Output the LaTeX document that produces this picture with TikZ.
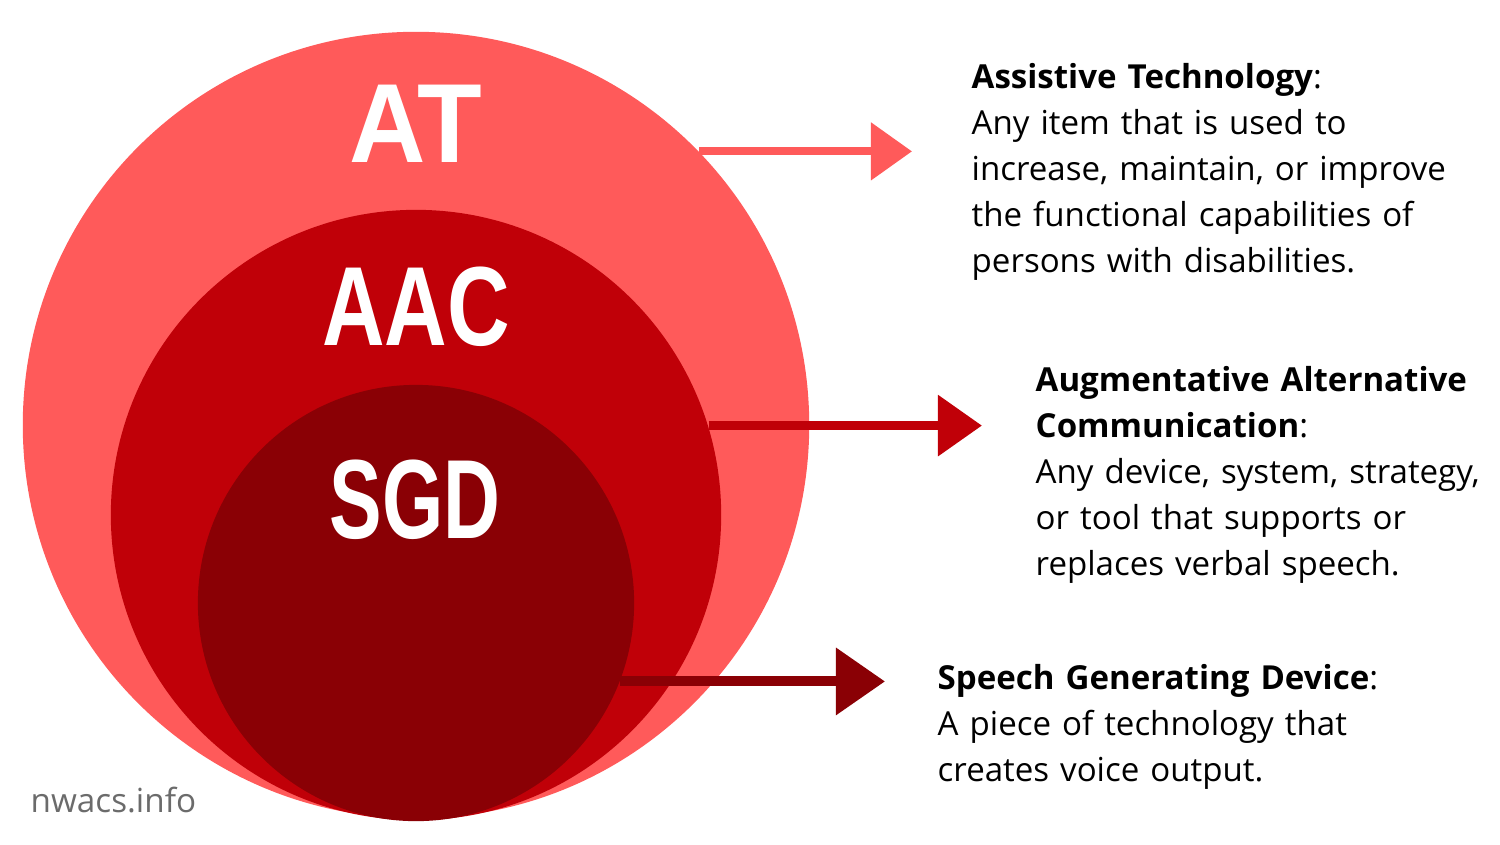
\documentclass[tikz,border=0pt]{standalone}
\usepackage{fontspec}
\setmainfont{Open Sans}
\newfontfamily\labelfont{Liberation Sans}
\usetikzlibrary{arrows.meta}
\definecolor{atred}{HTML}{FF5A5A}
\definecolor{aacred}{HTML}{C00008}
\definecolor{sgdred}{HTML}{8A0005}
\definecolor{sitegray}{HTML}{6B6B6B}

\begin{document}
\begin{tikzpicture}[x=0.01cm,y=-0.01cm,
                    ring/.style={circle,inner sep=0pt,minimum size=#1},
                    tag/.style={anchor=base,text=white,
                      font=\labelfont\bfseries\fontsize{32}{32}\selectfont},
                    desc/.style={anchor=base west,inner sep=0pt,text width=5.8cm,
                      align=left,font=\fontsize{9.4}{13.09}\selectfont},
                    pointer/.style={line width=#1}]
 \useasboundingbox (0,0) rectangle (1500,844);
 \fill[white] (0,0) rectangle (1500,844);
 % nested circles
 \node[ring=7.86cm,fill=atred]  (at)  at (416,425) {};
 \node[ring=6.10cm,fill=aacred] (aac) at (416,515) {};
 \node[ring=4.36cm,fill=sgdred] (sgd) at (416,603) {};
 \node[tag] (atlabel)  at (416,162) {\scalebox{0.94}[1]{AT}};
 \node[tag] (aaclabel) at (416,345) {\scalebox{0.77}[1]{AAC}};
 \node[tag] (sgdlabel) at (415,538) {\scalebox{0.70}[1]{SGD}};
 % arrow tips
 \coordinate (attip)  at (912,152);
 \coordinate (aactip) at (982,424);
 \coordinate (sgdtip) at (885,683);
 \draw[pointer=0.08cm,atred,-{Triangle[length=0.41cm,width=0.56cm]}]
      (at.44) -- (at.44 -| attip);
 \draw[pointer=0.095cm,aacred,-{Triangle[length=0.44cm,width=0.59cm]}]
      (aac.17.4) -- (aac.17.4 -| aactip);
 \draw[pointer=0.10cm,sgdred,-{Triangle[length=0.49cm,width=0.65cm]}]
      (sgd.-21.5) -- (sgd.-21.5 -| sgdtip);
 % descriptions
 \node[desc] (attext) at (971,88)
      {\textbf{Assistive Technology}:\\
       Any item that is used to\\
       increase, maintain, or improve\\
       the functional capabilities of\\
       persons with disabilities.};
 \node[desc] (aactext) at (1035,391)
      {\textbf{Augmentative Alternative}\\
       \textbf{Communication}:\\
       Any device, system, strategy,\\
       or tool that supports or\\
       replaces verbal speech.};
 \node[desc] (sgdtext) at (937,689)
      {\textbf{Speech Generating Device}:\\
       A piece of technology that\\
       creates voice output.};
 \node[anchor=base west,inner sep=0pt,text=sitegray,
       font=\fontsize{9.45}{12}\selectfont] (site) at (30,812) {nwacs.info};
\end{tikzpicture}
\end{document}
